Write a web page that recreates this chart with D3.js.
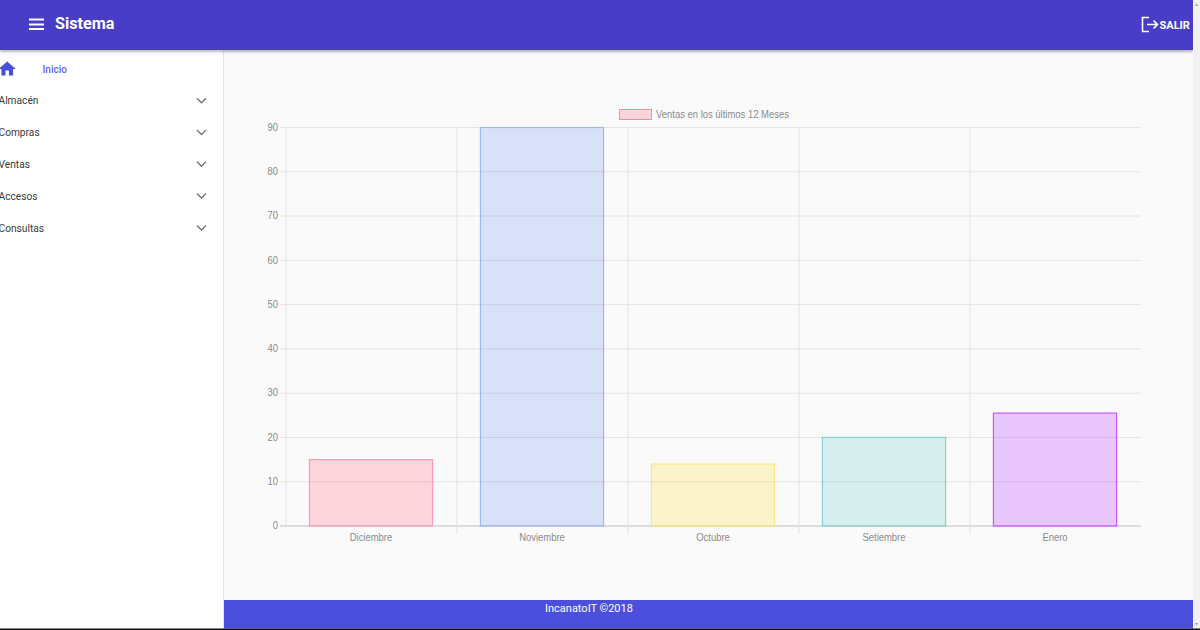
<!DOCTYPE html>
<html lang="es">
<head>
    <meta charset="UTF-8">
    <title>Sistema</title>
    <style>
        html, body { margin: 0; padding: 0; background: #fafafa; overflow: hidden; }
        svg { display: block; }
        .ui { font-family: Roboto, sans-serif; }
        .chart text { font-family: "Liberation Sans", Arial, sans-serif; fill: #8a8a8a; font-size: 10.5px; }
    </style>
</head>
<body>
    <svg id="page" width="1200" height="630"></svg>
    <script src="https://d3js.org/d3.v7.min.js"></script>
    <script>
        // chart data
        const months = ['Diciembre', 'Noviembre', 'Octubre', 'Setiembre', 'Enero'];
        const sales = [15, 90, 14, 20, 25.5];
        const fills = ['rgba(255,99,132,0.25)', 'rgba(54,102,245,0.17)', 'rgba(255,225,70,0.27)', 'rgba(75,192,192,0.2)', 'rgba(191,64,255,0.28)'];
        const strokes = ['#ff9db3', '#9db7f5', '#fbe77f', '#85d0d0', '#cf57ff'];
        const yTicks = [0, 10, 20, 30, 40, 50, 60, 70, 80, 90];
        const legendLabel = 'Ventas en los últimos 12 Meses';

        // page text
        const menuItems = ['Almacén', 'Compras', 'Ventas', 'Accesos', 'Consultas'];

        const svg = d3.select('#page');

        const x = d3.scaleBand().domain(months).range([286, 1141]);
        const y = d3.scaleLinear().domain([0, 90]).range([526, 127.5]);
        const barPad = x.bandwidth() * 0.14;

        // the source screenshot is squeezed sideways, so the chart text is too
        function squeeze(sel) {
            sel.each(function () {
                d3.select(this)
                    .attr('textLength', this.getComputedTextLength() * 0.9)
                    .attr('lengthAdjust', 'spacingAndGlyphs');
            });
        }

        // sidebar
        svg.append('rect').attr('x', 0).attr('y', 0).attr('width', 223).attr('height', 630).attr('fill', '#fff');
        svg.append('line').attr('x1', 223.5).attr('x2', 223.5).attr('y1', 50).attr('y2', 630).attr('stroke', '#e4e4e4');

        const ui = svg.append('g').attr('class', 'ui');
        ui.append('path')
            .attr('d', 'M5.5 75.5v-5h3.4v5h4.2v-6.6h2.6L7.2 61.4-1.2 68.9h2.6v6.6z')
            .attr('fill', '#4a4fd8');
        ui.append('text').attr('x', 42.5).attr('y', 72.5).attr('font-size', 10).attr('font-weight', 500)
            .attr('fill', '#5f63ea').text('Inicio');

        const menu = ui.selectAll('g.menu').data(menuItems).join('g')
            .attr('class', 'menu')
            .attr('transform', (d, i) => `translate(0,${100.7 + i * 31.8})`);
        menu.append('text').attr('x', -1.5).attr('y', 3.7).attr('font-size', 10.2).attr('fill', '#3a3a3a').text(d => d);
        menu.append('path').attr('d', 'M197 -2.5L201.5 2L206 -2.5').attr('fill', 'none')
            .attr('stroke', '#777').attr('stroke-width', 1.4);

        // chart
        const chart = svg.append('g').attr('class', 'chart');

        chart.selectAll('line.hgrid').data(yTicks).join('line')
            .attr('class', 'hgrid')
            .attr('x1', 280).attr('x2', 1141)
            .attr('y1', d => y(d)).attr('y2', d => y(d))
            .attr('stroke', d => d === 0 ? '#bdbdbd' : '#e3e3e3')
            .attr('stroke-width', 1);

        // the first grid line stops at the axis, the others run on below it
        chart.selectAll('line.vgrid').data(months).join('line')
            .attr('class', 'vgrid')
            .attr('x1', d => x(d)).attr('x2', d => x(d))
            .attr('y1', y(90)).attr('y2', (d, i) => i === 0 ? y(0) : y(0) + 8)
            .attr('stroke', '#e3e3e3');

        chart.selectAll('text.ytick').data(yTicks).join('text')
            .attr('class', 'ytick')
            .attr('x', 278).attr('y', d => y(d) + 3.3)
            .attr('text-anchor', 'end').text(d => d)
            .call(squeeze);

        chart.selectAll('text.xtick').data(months).join('text')
            .attr('class', 'xtick')
            .attr('x', d => x(d) + x.bandwidth() / 2 - 0.5).attr('y', 541)
            .attr('text-anchor', 'middle').text(d => d)
            .call(squeeze);

        chart.selectAll('rect.bar').data(sales).join('rect')
            .attr('class', 'bar')
            .attr('x', (d, i) => x(months[i]) + barPad - 0.5)
            .attr('y', d => y(d))
            .attr('width', x.bandwidth() - 2 * barPad)
            .attr('height', d => y(0) - y(d))
            .attr('fill', (d, i) => fills[i])
            .attr('stroke', (d, i) => strokes[i])
            .attr('stroke-width', 1.2);

        // legend
        chart.append('rect').attr('x', 619.5).attr('y', 109.5).attr('width', 32).attr('height', 10)
            .attr('fill', fills[0]).attr('stroke', '#ff88a2').attr('stroke-width', 1);
        chart.append('text').attr('x', 656).attr('y', 117.5).text(legendLabel)
            .call(squeeze);

        // header
        svg.append('defs').append('filter').attr('id', 'shadow')
            .attr('x', '-2%').attr('y', '-10%').attr('width', '104%').attr('height', '130%')
            .append('feDropShadow').attr('dx', 0).attr('dy', 1.5).attr('stdDeviation', 1.5)
            .attr('flood-color', '#000').attr('flood-opacity', 0.35);
        const head = svg.append('g').attr('class', 'ui');
        head.append('rect').attr('x', 0).attr('y', 0).attr('width', 1193).attr('height', 50)
            .attr('fill', '#463dc7').attr('filter', 'url(#shadow)');
        head.append('path').attr('d', 'M29 19.5H44M29 24.5H44M29 29H44').attr('stroke', '#fff').attr('stroke-width', 2);
        head.append('text').attr('x', 55).attr('y', 29.2).attr('font-size', 16.2).attr('font-weight', 700)
            .attr('fill', '#fff').text('Sistema');
        head.append('path').attr('d', 'M1149 17.5H1142.5V31.5H1149').attr('fill', 'none').attr('stroke', '#fff').attr('stroke-width', 1.6);
        head.append('path').attr('d', 'M1147 24.5H1157M1153.5 20.5L1157.5 24.5L1153.5 28.5').attr('fill', 'none').attr('stroke', '#fff').attr('stroke-width', 1.6);
        head.append('text').attr('x', 1159.5).attr('y', 29).attr('font-size', 11).attr('font-weight', 700)
            .attr('fill', '#fff').text('SALIR');

        // footer
        const foot = svg.append('g').attr('class', 'ui');
        foot.append('rect').attr('x', 224).attr('y', 600).attr('width', 969).attr('height', 28.5).attr('fill', '#4c4fdb');
        foot.append('text').attr('x', 545).attr('y', 612).attr('font-size', 11)
            .attr('fill', '#fff').text('IncanatoIT ©2018');

        // scrollbar and window edge
        svg.append('rect').attr('x', 1193).attr('y', 0).attr('width', 7).attr('height', 630).attr('fill', '#f1f1f1');
        svg.append('path').attr('d', 'M1195 6L1196.5 3.5L1198 6Z').attr('fill', '#999');
        svg.append('path').attr('d', 'M1195 623L1196.5 625.5L1198 623Z').attr('fill', '#999');
        svg.append('rect').attr('x', 0).attr('y', 628.5).attr('width', 1200).attr('height', 1.5).attr('fill', '#111');
    </script>
</body>
</html>
